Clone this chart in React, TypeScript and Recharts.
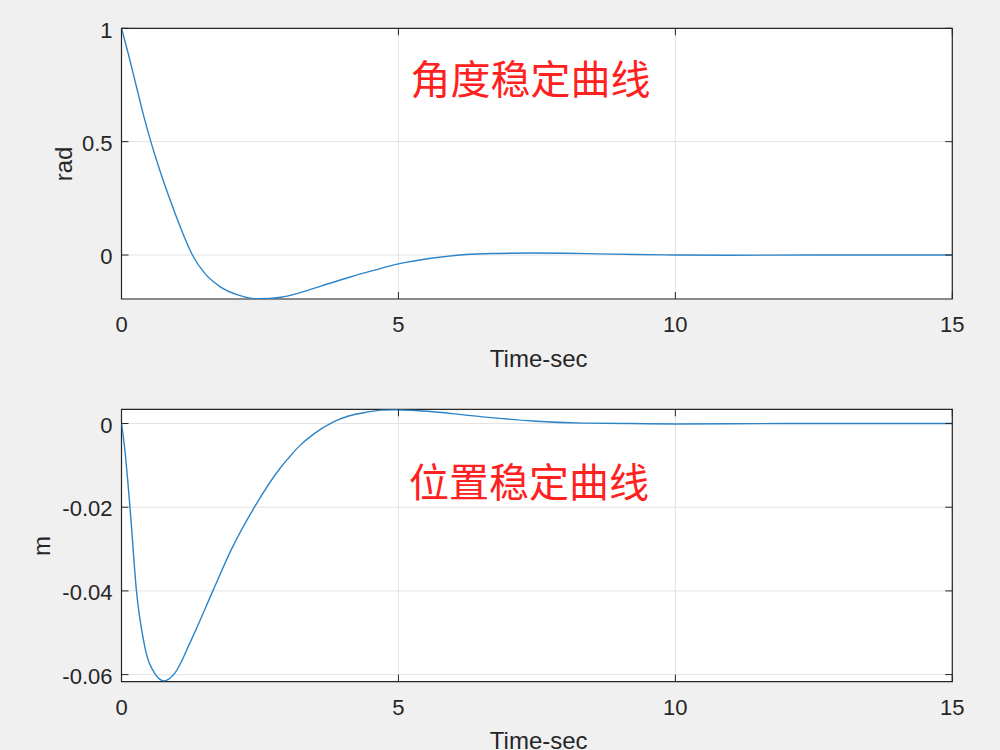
import { LineChart, Line, XAxis, YAxis, CartesianGrid, ReferenceArea } from "recharts";

// time axis (seconds) and tick labels
const timeTicks = [0, 5, 10, 15];
const angleTicks = [0, 0.5, 1];
const posTicks = [-0.06, -0.04, -0.02, 0];

// angle response (rad)
const angleTime = [0, 0.12, 0.27, 0.42, 0.53, 0.69, 0.9, 1.1, 1.28, 1.5, 1.77, 2.1, 2.46, 2.88, 3.24, 3.6, 4.1, 4.55, 5.0, 5.62, 6.22, 6.8, 7.42, 8.0, 8.62, 9.3, 10, 11, 12.5, 15];
const angleRad = [1, 0.89, 0.742, 0.596, 0.5, 0.375, 0.228, 0.1, 0, -0.08, -0.138, -0.176, -0.193, -0.186, -0.165, -0.137, -0.099, -0.068, -0.039, -0.013, 0.002, 0.007, 0.009, 0.008, 0.005, 0.002, 0.0, -0.001, 0, 0];

// position response (m)
const posTime = [0, 0.05, 0.153, 0.27, 0.42, 0.6, 0.77, 0.96, 1.26, 1.65, 1.98, 2.4, 2.88, 3.0, 3.21, 3.48, 3.81, 4.1, 4.42, 4.7, 4.95, 5.3, 5.62, 6.52, 7.42, 8.32, 9.2, 10, 12, 15];
const posMeters = [0, -0.005, -0.02, -0.04, -0.0533, -0.0597, -0.0615, -0.0597, -0.0517, -0.04, -0.0302, -0.02, -0.0104, -0.0085, -0.0054, -0.0024, 0.0003, 0.0018, 0.0027, 0.0032, 0.0033, 0.0031, 0.0028, 0.0016, 0.0006, 0.0001, 0, -0.0001, 0, 0];

const angleData = angleTime.map((t, i) => ({ t, v: angleRad[i] }));
const posData = posTime.map((t, i) => ({ t, v: posMeters[i] }));

const AXIS = "#262626";
const GRID = "#e3e3e3";
const LINE = "#2c84c8";
const FONT = "'Liberation Sans', Arial, Helvetica, sans-serif";
const TICK_SIZE = 22;

const PLOT_W = 830.8;

const makeXTick = (plotH: number) => (props: any) => {
  const { x, y, payload } = props;
  return (
    <g>
      <line x1={x} y1={y} x2={x} y2={y - 7} stroke={AXIS} />
      <line x1={x} y1={y - plotH} x2={x} y2={y - plotH + 7} stroke={AXIS} />
      <text x={x} y={y + 33} textAnchor="middle" fill={AXIS} fontSize={TICK_SIZE} fontFamily={FONT}>
        {payload.value}
      </text>
    </g>
  );
};

const YTick = (props: any) => {
  const { x, y, payload } = props;
  return (
    <g>
      <line x1={x} y1={y} x2={x + 7} y2={y} stroke={AXIS} />
      <line x1={x + PLOT_W} y1={y} x2={x + PLOT_W - 7} y2={y} stroke={AXIS} />
      <text x={x - 9} y={y} dy="0.42em" textAnchor="end" fill={AXIS} fontSize={TICK_SIZE} fontFamily={FONT}>
        {payload.value}
      </text>
    </g>
  );
};

function Panel({ data, domain, ticks, height, top, axisH }: any) {
  const plotH = height - top - axisH;
  return (
    <LineChart width={1000} height={height} data={data} margin={{ top, right: 47.7, left: 0.5, bottom: 0 }}>
      <CartesianGrid stroke={GRID} fill="#ffffff" />
      <XAxis
        dataKey="t"
        type="number"
        domain={[0, 15]}
        ticks={timeTicks}
        interval={0}
        height={axisH}
        tickSize={0}
        tickMargin={0}
        axisLine={false}
        tickLine={false}
        tick={makeXTick(plotH)}
        allowDataOverflow
      />
      <YAxis
        type="number"
        domain={domain}
        ticks={ticks}
        interval={0}
        width={121}
        tickSize={0}
        tickMargin={0}
        axisLine={false}
        tickLine={false}
        tick={<YTick />}
        allowDataOverflow
      />
      <ReferenceArea x1={0} x2={15} y1={domain[0]} y2={domain[1]} fill="none" fillOpacity={0} stroke={AXIS} strokeWidth={1.2} />
      <Line type="monotone" dataKey="v" stroke={LINE} strokeWidth={1.4} dot={false} isAnimationActive={false} />
    </LineChart>
  );
}

export default function App() {
  const label = { fill: AXIS, fontSize: 24, fontFamily: FONT };
  const red = { fill: "#ff2020", fontSize: 40, fontFamily: "'Noto Sans CJK SC', sans-serif" };
  return (
    <div style={{ position: "absolute", left: 0, top: 0, width: 1000, height: 750, background: "#f0f0f0", overflow: "hidden" }}>
      <div style={{ position: "absolute", left: 0, top: 0 }}>
        <Panel data={angleData} domain={[-0.194, 1]} ticks={angleTicks} height={390} top={28.3} axisH={91} />
      </div>
      <div style={{ position: "absolute", left: 0, top: 390 }}>
        <Panel data={posData} domain={[-0.0617, 0.0034]} ticks={posTicks} height={360} top={19.3} axisH={68.3} />
      </div>
      <svg width={1000} height={750} style={{ position: "absolute", left: 0, top: 0, pointerEvents: "none" }}>
        <text x={538.7} y={366.7} textAnchor="middle" {...label}>Time-sec</text>
        <text x={538.7} y={748.5} textAnchor="middle" {...label}>Time-sec</text>
        <text transform="translate(71.5,164) rotate(-90)" textAnchor="middle" {...label}>rad</text>
        <text transform="translate(50,546) rotate(-90)" textAnchor="middle" {...label}>m</text>
        <text x={410.5} y={94} {...red}>角度稳定曲线</text>
        <text x={409} y={497} {...red}>位置稳定曲线</text>
      </svg>
    </div>
  );
}
